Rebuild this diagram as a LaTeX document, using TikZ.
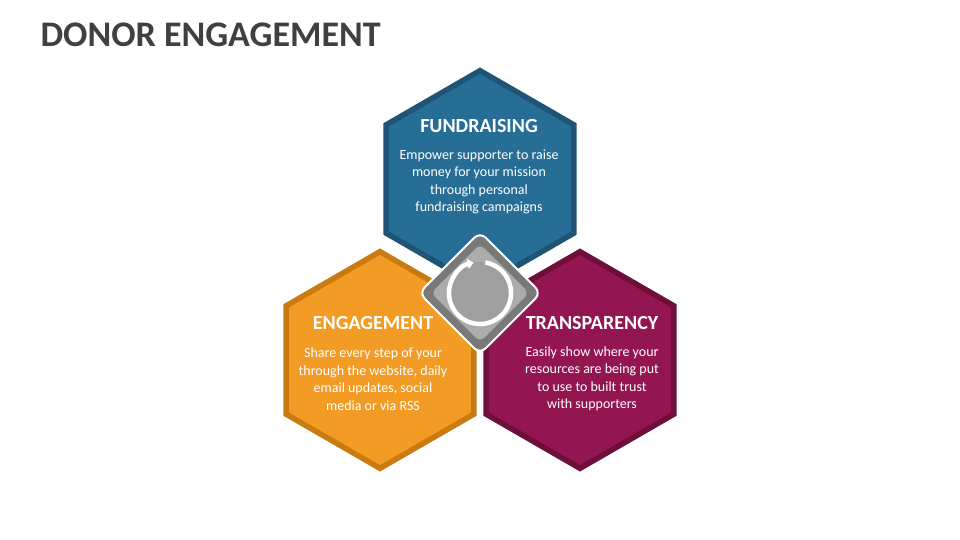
\documentclass[tikz,border=0pt]{standalone}
\usepackage{fontspec}
\setmainfont{Carlito}
\usetikzlibrary{arrows.meta}
\definecolor{bluD}{HTML}{1F5474}\definecolor{bluF}{HTML}{266E96}
\definecolor{orD}{HTML}{C97A10}\definecolor{orF}{HTML}{F29C26}
\definecolor{puD}{HTML}{6E0E3B}\definecolor{puF}{HTML}{931651}
\definecolor{ttl}{HTML}{404040}
\begin{document}
\begin{tikzpicture}[x=1pt,y=1pt,
  head/.style={text=white,font=\bfseries\fontsize{20}{22}\selectfont},
  body/.style={text=white,align=center,font=\fontsize{14}{17.5}\selectfont}]
\useasboundingbox (0,0) rectangle (960,540);
\newcommand{\hexa}[5]{% x y R fill draw
  \fill[#5,draw=white,line width=4] (#1,#2) ++(90:#3) -- ++(-30:#3) -- ++(-90:#3) -- ++(-150:#3) -- ++(150:#3) -- ++(90:#3) -- cycle;
  \fill[#4] (#1,#2) ++(90:#3-9) -- ++(-30:#3-9) -- ++(-90:#3-9) -- ++(-150:#3-9) -- ++(150:#3-9) -- ++(90:#3-9) -- cycle;}
\node[anchor=west,text=ttl,font=\bfseries\fontsize{36}{38}\selectfont] (title) at (37,505) {DONOR ENGAGEMENT};
\hexa{380}{180}{114}{orF}{orD}
\hexa{580}{180}{114}{puF}{puD}
\hexa{480}{361}{114}{bluF}{bluD}
\node[head] (h1) at (479,414) {FUNDRAISING};
\node[body] (b1) at (479,358) {Empower supporter to raise\\money for your mission\\through personal\\fundraising campaigns};
\node[head] (h2) at (373,217) {ENGAGEMENT};
\node[body] (b2) at (373,161) {Share every step of your\\through the website, daily\\email updates, social\\media or via RSS};
\node[head] (h3) at (592,217) {TRANSPARENCY};
\node[body] (b3) at (592,161) {Easily show where your\\resources are being put\\to use to built trust\\with supporters};
\fill[gray!95!black,draw=white,line width=2,rounded corners=8] (480,308) -- (541,247) -- (480,186) -- (419,247) -- cycle;
\fill[gray!65,rounded corners=6] (480,296) -- (529,247) -- (480,198) -- (431,247) -- cycle;
\node[circle,fill=gray!75,minimum size=62] (c) at (480,247) {};
\draw[white,line width=4.5,-{Triangle[length=6,width=10]}] (c.center) ++(80:31) arc (80:-258:31);
\end{tikzpicture}
\end{document}
